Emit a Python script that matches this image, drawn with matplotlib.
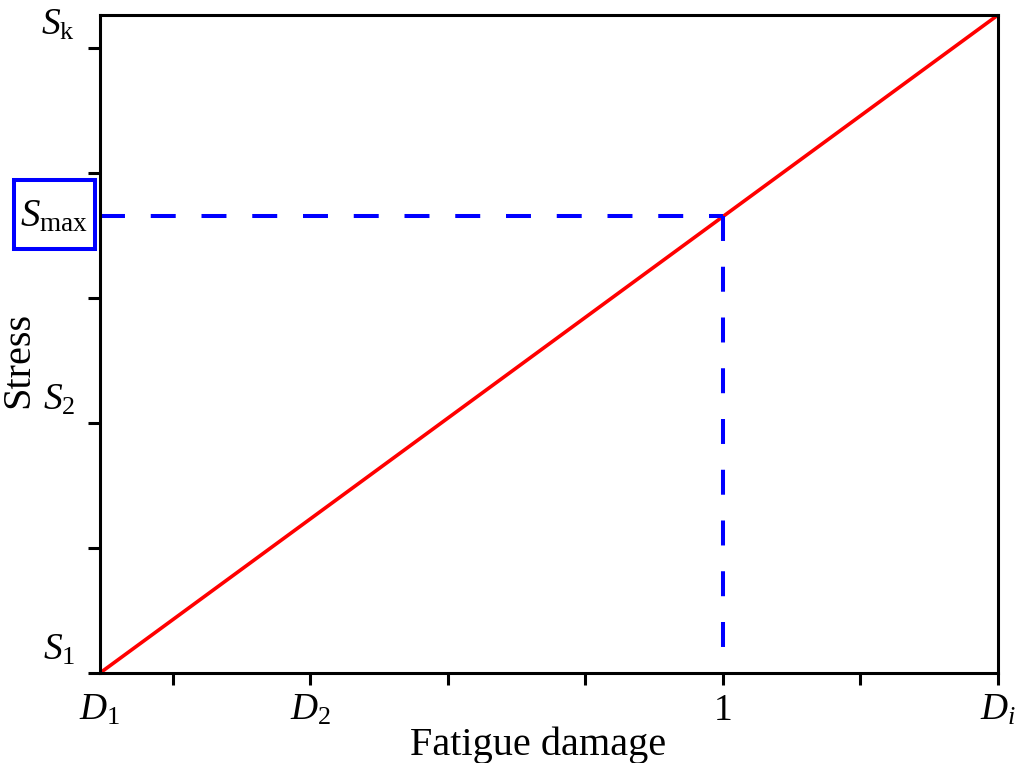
import matplotlib
matplotlib.use("Agg")
import matplotlib.pyplot as plt
from matplotlib.patches import Rectangle

plt.rcParams['font.family'] = ['Liberation Serif', 'DejaVu Serif']
plt.rcParams['mathtext.fontset'] = 'custom'
plt.rcParams['mathtext.rm'] = 'Liberation Serif'
plt.rcParams['mathtext.it'] = 'Liberation Serif:italic'

# data
damage = [0.0, 6.53]          # D1 .. Di
stress = [0.0, 5.26]          # S1 .. Sk
x_ticks = [0.53, 1.53, 2.53, 3.53, 4.53, 5.53, 6.53]
y_ticks = [0, 1, 2, 3, 4, 5]
x_labels = {0.0: r'$D_{\rm 1}$', 1.53: r'$D_{\rm 2}$', 4.53: '1', 6.53: r'$D_i$'}
y_labels = {0: r'$S_{\rm 1}$', 2: r'$S_{\rm 2}$', 5: r'$S_{\rm k}$'}
d_unit = 4.53
s_max = 3.65

W, H = 1016, 763
fig = plt.figure(figsize=(W / 100, H / 100), dpi=100)
ax = fig.add_axes([100 / W, 1 - 673 / H, 898 / W, 658 / H])
ax.set_xlim(damage[0], damage[1])
ax.set_ylim(stress[0], stress[1])

ax.plot(damage, stress, color='#ff0000', lw=2.6, solid_capstyle='butt')
ax.plot([damage[0], d_unit], [s_max, s_max], color='#0000ff', lw=2.9, dashes=(6.2, 6.4))
ax.plot([d_unit, d_unit], [s_max, stress[0]], color='#0000ff', lw=2.9, dashes=(6.2, 6.4))

for s in ax.spines.values():
    s.set_linewidth(2.2)
ax.set_xticks(x_ticks)
ax.set_yticks(y_ticks)
ax.set_xticklabels([])
ax.set_yticklabels([])
ax.tick_params(direction='out', length=8.5, width=2.2)

for xv, lab in x_labels.items():
    ax.text(xv, -0.16, lab, ha='center', va='top', fontsize=27)
for yv, lab in y_labels.items():
    ax.text(-0.18, yv + 0.18, lab, ha='right', va='center', fontsize=27)

# S_max label with its blue frame
fig.text(54 / W, 1 - 226 / H, r'$S_{\rm max}$', ha='center', va='baseline', fontsize=28)
fig.patches.append(Rectangle((14 / W, 1 - 249 / H), 81 / W, 69 / H,
                             transform=fig.transFigure, fill=False,
                             ec='#0000ff', lw=2.9))

fig.text(538 / W, 1 - 755 / H, 'Fatigue damage', ha='center', va='baseline', fontsize=29)
fig.text(19 / W, 1 - 360 / H, 'Stress', ha='center', va='center', rotation=90, fontsize=29)

fig.savefig('out.png', dpi=100)
